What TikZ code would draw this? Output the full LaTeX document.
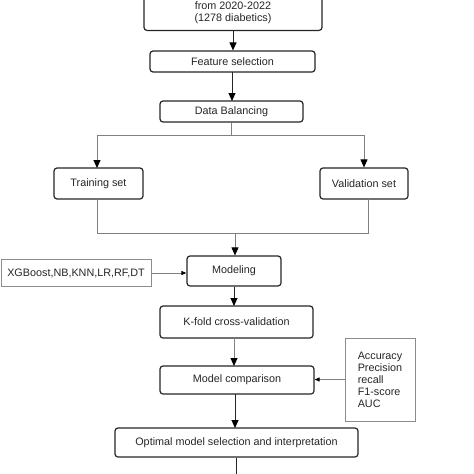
\documentclass[tikz,border=0pt]{standalone}
\usepackage{fontspec}
\setmainfont{Liberation Sans}
\usetikzlibrary{arrows.meta}
\begin{document}
\begin{tikzpicture}[x=1pt,y=1pt,
  font=\fontsize{10.8}{11.6}\selectfont,
  txt/.style={text=black!85},
  box/.style={draw=black!85, line width=1.2pt, rounded corners=3pt, inner sep=0pt, txt},
  gbox/.style={draw=black!45, line width=1pt, inner sep=0pt, txt},
  blk/.style={draw=black!85, line width=1pt, -{Triangle[length=8pt,width=7pt,black]}},
  gry/.style={draw=black!50, line width=0.9pt},
  gryarr/.style={gry, -{Triangle[length=8pt,width=7pt,black]}},
  small/.style={draw=black!50, line width=0.9pt, -{Triangle[length=5pt,width=4pt,black]}}
]
\useasboundingbox (0,0) rectangle (474,-474);
\fill[white] (0,0) rectangle (474,-474);
\begin{scope}
\clip (0,0) rectangle (474,-474);
\node[box, minimum width=178pt, minimum height=60pt, anchor=south] (src) at (233,-31) {};
\node[txt, align=center] (srctxt) at (233,-12.5) {from 2020-2022\\(1278 diabetics)};
\end{scope}
\node[box, minimum width=165pt, minimum height=21pt] (feat) at (232.5,-61.5) {Feature selection};
\node[box, minimum width=143pt, minimum height=21pt] (bal) at (231.5,-111.5) {Data Balancing};
\node[box, minimum width=89pt, minimum height=31pt] (train) at (98.5,-183.5) {Training set};
\node[box, minimum width=88pt, minimum height=31pt] (valid) at (364,-183.5) {Validation set};
\node[box, minimum width=94pt, minimum height=30pt] (model) at (234,-271) {Modeling};
\node[gbox, minimum width=150pt, minimum height=27pt] (algo) at (76,-273) {XGBoost,NB,KNN,LR,RF,DT};
\node[box, minimum width=153pt, minimum height=32pt] (kfold) at (236.5,-322) {K-fold cross-validation};
\node[box, minimum width=154pt, minimum height=28pt] (comp) at (237,-380) {Model comparison};
\node[gbox, minimum width=70pt, minimum height=83pt, align=left, font=\fontsize{10.8}{12}\selectfont] (metric) at (380,-379.5) {Accuracy\\Precision\\recall\\F1-score\\AUC};
\node[box, minimum width=243pt, minimum height=29pt] (opt) at (236.5,-442.5) {Optimal model selection and interpretation};
\coordinate (bottom) at (236,-474);
\coordinate (splitc) at (231,-135);
\coordinate (mergec) at (235,-233);

\draw[blk] (src.south) -- (src.south |- feat.north);
\draw[blk] (232,-72) -- (232,-101);
\draw[gry] (bal.south -| splitc) -- (splitc);
\draw[gryarr] (splitc) -| (97,-168);
\draw[gryarr] (splitc) -| (valid.north);
\draw[gry] (97,-199) -- (97,-233) -- (368,-233) -- (368,-199);
\draw[gryarr] (mergec) -- (mergec |- model.north);
\draw[small] (algo.east) -- (model.west |- algo.east);
\draw[blk] (model.south) -- (234,-306);
\draw[gryarr] (234,-338) -- (234,-366);
\draw[small] (metric.west) -- (comp.east |- metric.west);
\draw[blk] (235,-394) -- (235,-428);
\draw[draw=black!85, line width=1pt] (opt.south -| bottom) -- (bottom);
\end{tikzpicture}
\end{document}
